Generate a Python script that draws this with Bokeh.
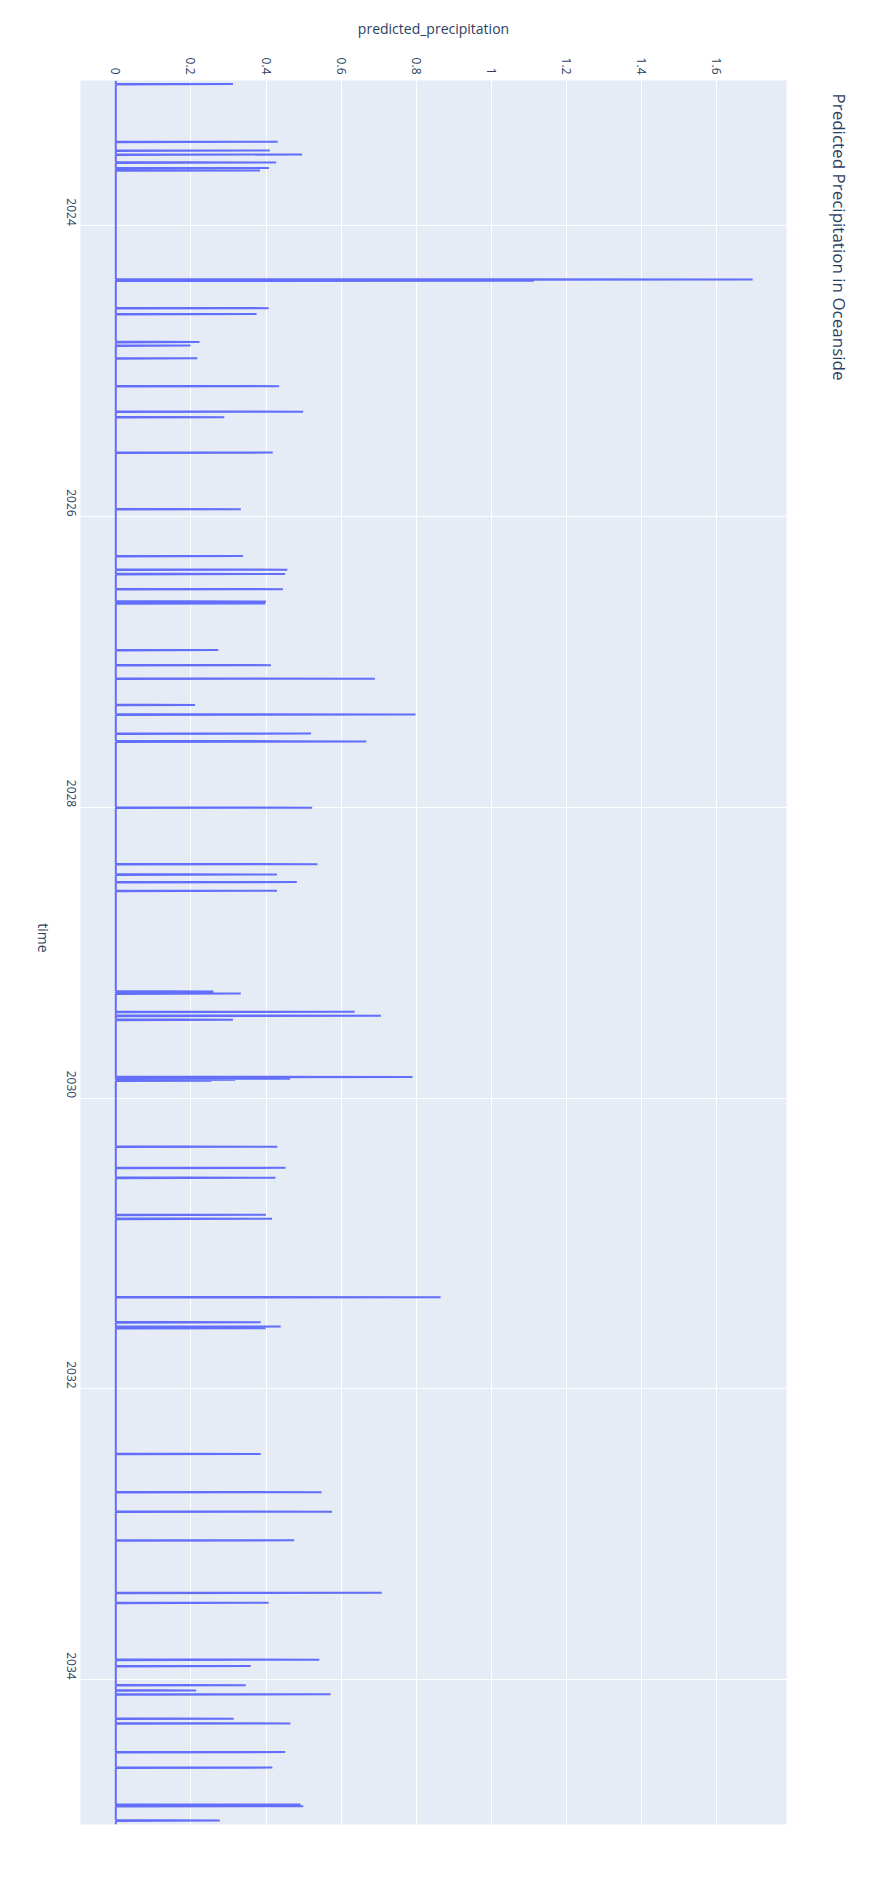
import math
import pandas as pd
from bokeh.plotting import figure
from bokeh.models import Range1d, FixedTicker, CustomJSTickFormatter, ColumnDataSource, Title
from bokeh.embed import file_html
from bokeh.resources import INLINE

# ---- data ----
series_start = "2023-01-01"
series_end = "2034-12-31"

rain_dates = [
    "2023-01-10", "2023-06-04", "2023-06-26", "2023-07-06", "2023-07-26", "2023-08-09", "2023-08-15",
    "2024-05-15", "2024-05-18", "2024-07-26", "2024-08-10", "2024-10-19", "2024-10-28", "2024-11-29",
    "2025-02-07", "2025-04-12", "2025-04-26", "2025-07-24", "2025-12-13",
    "2026-04-10", "2026-05-14", "2026-05-25", "2026-07-02", "2026-08-02", "2026-08-07", "2026-12-02",
    "2027-01-09", "2027-02-12", "2027-04-19", "2027-05-13", "2027-06-30", "2027-07-19", "2027-07-20",
    "2028-01-02", "2028-05-23", "2028-06-18", "2028-07-07", "2028-07-29",
    "2029-04-08", "2029-04-13", "2029-05-29", "2029-06-08", "2029-06-18",
    "2029-11-09", "2029-11-13", "2029-11-16", "2029-11-18",
    "2030-05-03", "2030-06-25", "2030-07-20", "2030-10-21", "2030-10-31",
    "2031-05-16", "2031-07-18", "2031-07-29", "2031-08-02",
    "2032-06-13", "2032-09-17", "2032-11-05",
    "2033-01-16", "2033-05-28", "2033-06-22", "2033-11-12", "2033-11-28",
    "2034-01-15", "2034-01-28", "2034-02-07", "2034-04-09", "2034-04-21", "2034-07-02",
    "2034-08-10", "2034-11-11", "2034-11-15", "2034-12-21",
]
rain_values = [
    0.312, 0.431, 0.410, 0.496, 0.427, 0.408, 0.384,
    1.696, 1.113, 0.407, 0.375, 0.223, 0.199, 0.217,
    0.435, 0.499, 0.289, 0.418, 0.333,
    0.339, 0.457, 0.451, 0.445, 0.400, 0.398, 0.273,
    0.413, 0.690, 0.211, 0.798, 0.520, 0.436, 0.667,
    0.523, 0.537, 0.429, 0.482, 0.429,
    0.260, 0.333, 0.636, 0.706, 0.312,
    0.790, 0.464, 0.318, 0.255,
    0.430, 0.452, 0.425, 0.400, 0.416,
    0.865, 0.386, 0.439, 0.399,
    0.386, 0.548, 0.576,
    0.475, 0.708, 0.407, 0.542, 0.359,
    0.346, 0.214, 0.572, 0.314, 0.465, 0.451,
    0.417, 0.492, 0.499, 0.277,
]
precip_ticks = [0, 0.2, 0.4, 0.6, 0.8, 1.0, 1.2, 1.4, 1.6]
year_ticks = ["2024-01-01", "2026-01-01", "2028-01-01", "2030-01-01", "2032-01-01", "2034-01-01"]
chart_title = "Predicted Precipitation in Oceanside"

# ---- build daily table ----
days = pd.date_range(series_start, series_end, freq="D")
vals = pd.Series(0.0, index=days)
vals.loc[pd.to_datetime(rain_dates)] = rain_values
src = ColumnDataSource(dict(time=days, precip=vals.values))

def ms(s):
    return pd.Timestamp(s).value / 1e6

FONT = "Open Sans"
TXT = "#2a3f5f"

p = figure(
    frame_width=706, frame_height=1744,
    x_range=Range1d(-0.094, 1.786),
    y_range=Range1d(ms(series_end), ms(series_start)),
    y_axis_type="datetime", x_axis_location="above",
    title=chart_title, title_location="right",
    output_backend="svg", toolbar_location=None,
    min_border_left=80, min_border_top=80, min_border_right=60, min_border_bottom=72,
)
p.background_fill_color = "#E5ECF6"
p.border_fill_color = "white"
p.outline_line_color = None

p.line("precip", "time", source=src, color="#636EFA", line_width=2)

# x (precipitation) axis on top
xa = p.xaxis[0]
xa.ticker = FixedTicker(ticks=precip_ticks)
xa.formatter = CustomJSTickFormatter(code="return Number(tick.toFixed(1)).toString();")
xa.major_label_orientation = -math.pi / 2
xa.axis_label = "predicted_precipitation"

# y (time) axis on left
ya = p.yaxis[0]
ya.ticker = FixedTicker(ticks=[ms(t) for t in year_ticks])
ya.formatter = CustomJSTickFormatter(code="return String(new Date(tick).getUTCFullYear());")
ya.major_label_orientation = -math.pi / 2
ya.axis_label = "time"
try:
    ya.axis_label_orientation = -math.pi / 2
except Exception:
    pass

for ax in (xa, ya):
    ax.axis_line_color = None
    ax.major_tick_line_color = None
    ax.minor_tick_line_color = None
    ax.major_label_text_font = FONT
    ax.major_label_text_font_size = "12px"
    ax.major_label_text_color = TXT
    ax.axis_label_text_font = FONT
    ax.axis_label_text_font_size = "14px"
    ax.axis_label_text_font_style = "normal"
    ax.axis_label_text_color = TXT

xa.major_label_standoff = 0
xa.axis_label_standoff = 17
ya.major_label_standoff = 3
ya.axis_label_standoff = 16

# invisible spacer between the frame and the (outermost) title
p.add_layout(Title(text=".", text_color="white", text_font_size="12px", standoff=28), "right")

p.xgrid.ticker = FixedTicker(ticks=precip_ticks)
p.ygrid.ticker = FixedTicker(ticks=[ms(t) for t in year_ticks])
for g in (p.xgrid, p.ygrid):
    g.grid_line_color = "white"
    g.grid_line_width = 1

p.title.align = "left"
p.title.vertical_align = "bottom"
p.title.offset = 13
p.title.standoff = 4
p.title.text_font = FONT
p.title.text_font_size = "17px"
p.title.text_font_style = "normal"
p.title.text_color = TXT

open("out.html", "w").write(file_html(p, INLINE))
